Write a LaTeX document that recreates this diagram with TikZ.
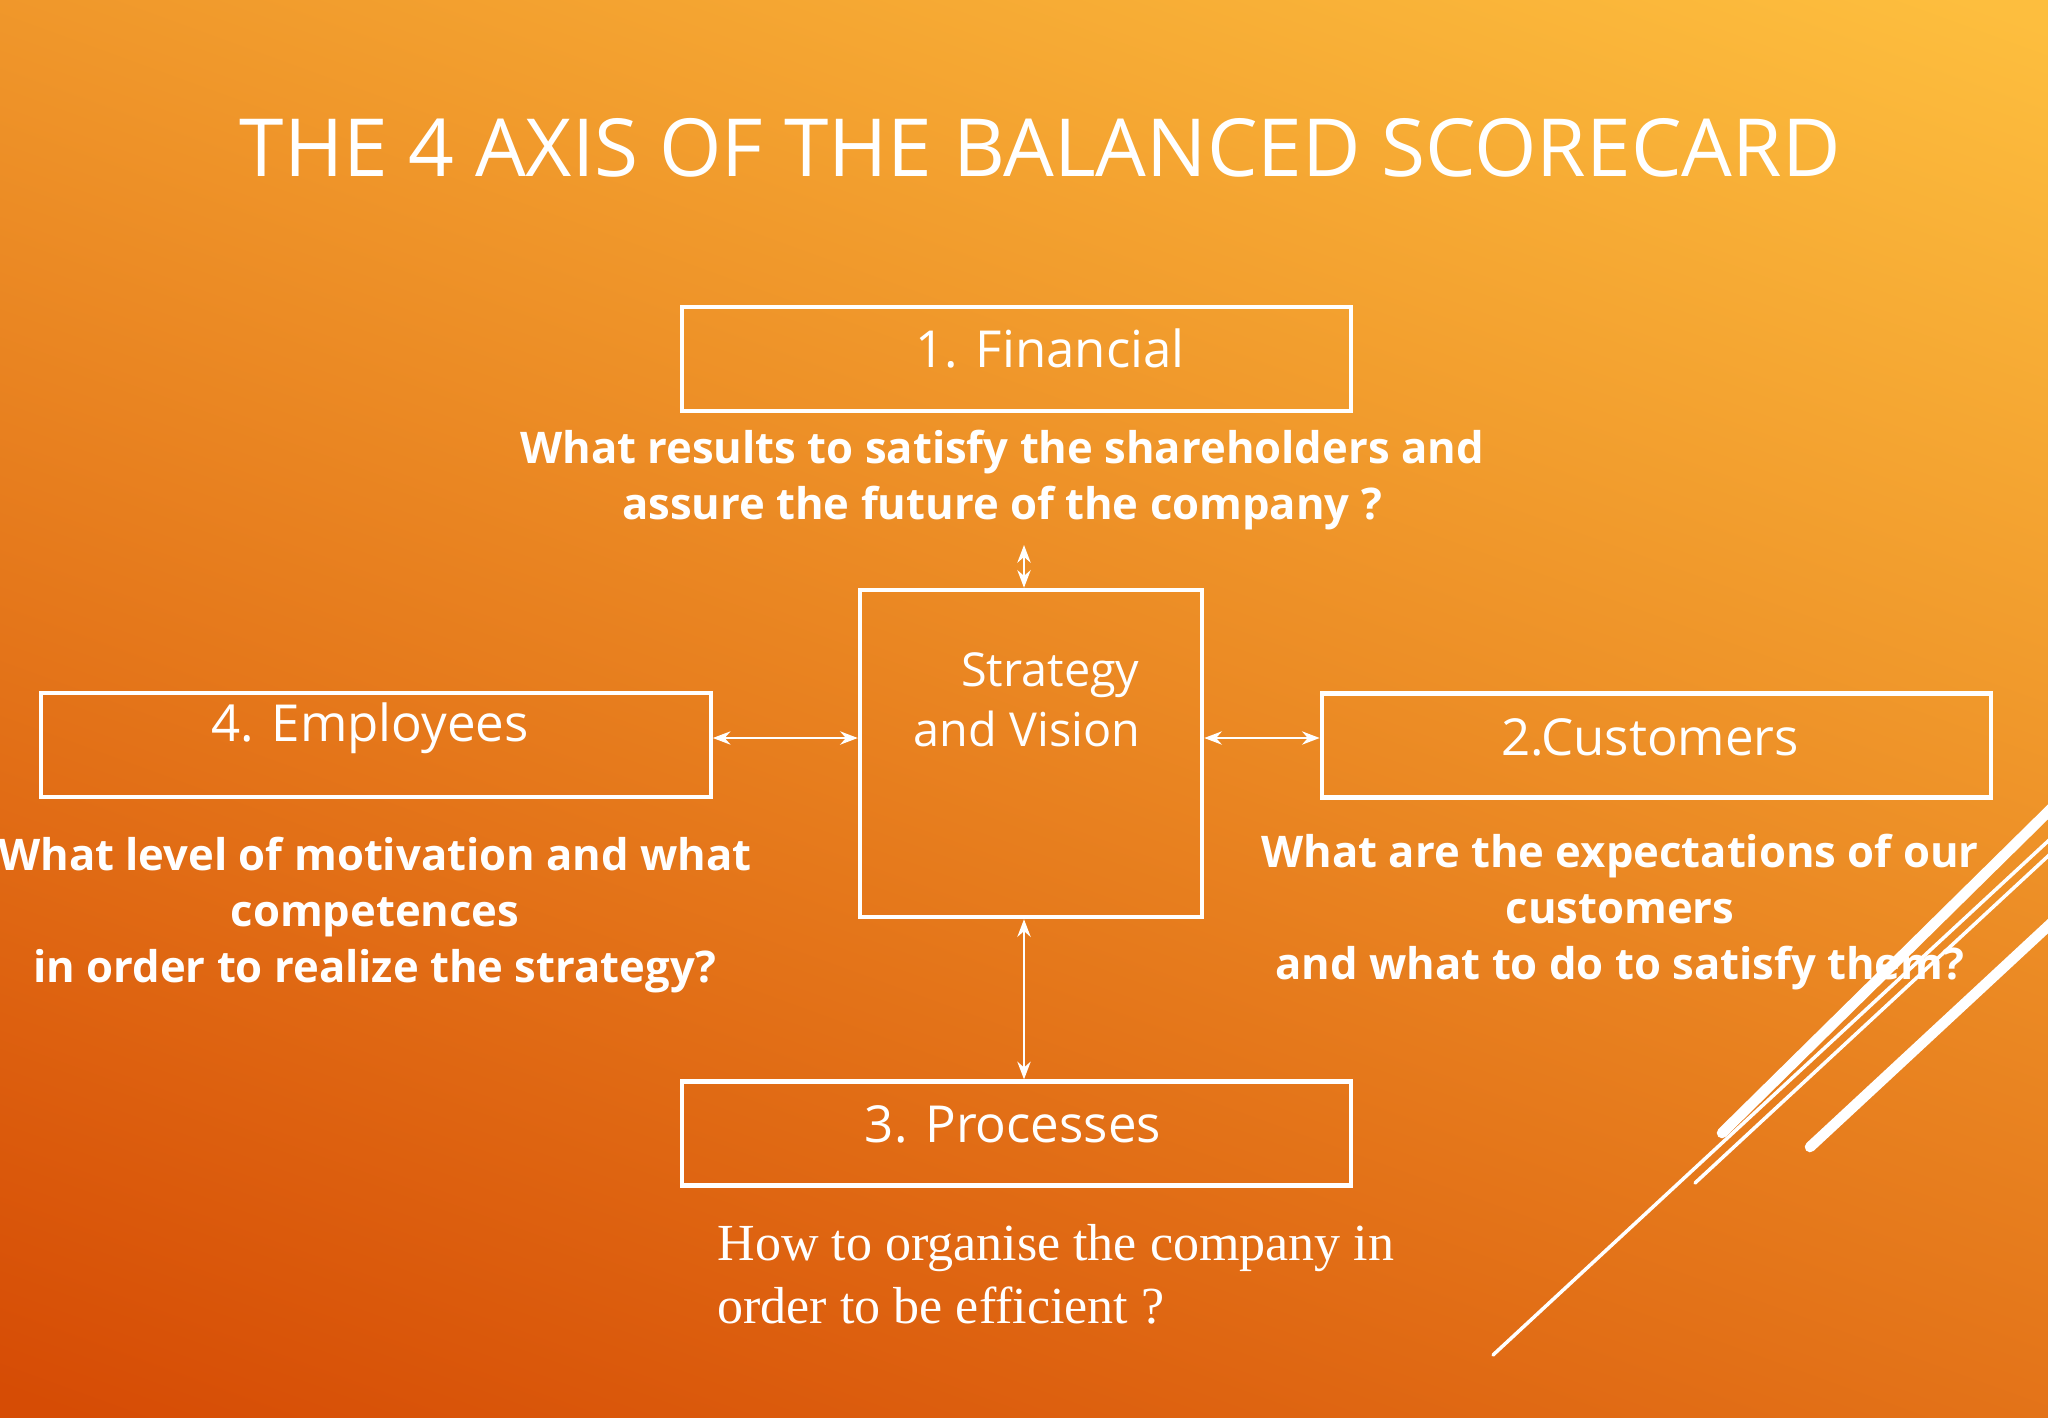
\documentclass[tikz,border=0pt]{standalone}
\usepackage{fontspec}
\setmainfont{Open Sans}
\newfontfamily\serifq{Liberation Serif}
\usetikzlibrary{arrows.meta}
\definecolor{topc}{HTML}{FDBE3E}
\definecolor{botc}{HTML}{D64C05}
\tikzset{
  box/.style={draw=white,line width=1.2pt,minimum width=6.69cm,minimum height=1.04cm,inner sep=0pt},
  lab/.style={text=white,font=\fontsize{14.5}{18}\selectfont},
  q/.style={text=white,font=\bfseries\fontsize{12.4}{15.8}\selectfont,align=center},
  dbl/.style={draw=white,line width=0.8pt,{Stealth[length=5pt]}-{Stealth[length=5pt]}},
  deco/.style={draw=white,line cap=round}
}
\begin{document}
\begin{tikzpicture}[x=0.01cm,y=-0.01cm]
\useasboundingbox (0,0) rectangle (2048,1418);
\clip (0,0) rectangle (2048,1418);
\shade[top color=topc,bottom color=botc,shading angle=-20] (-200,-200) rectangle (2248,1618);
\node[text=white,font=\fontsize{22.8}{28}\selectfont] (title) at (1040,148) {THE 4 AXIS OF THE BALANCED SCORECARD};
\node[box] (fin) at (1016.5,359) {};
\node[lab] at (1050,348) {1. Financial};
\node[draw=white,line width=1.2pt,minimum width=3.42cm,minimum height=3.27cm,inner sep=0pt] (sv) at (1031,753.5) {};
\node[lab,align=center,font=\fontsize{13.3}{17}\selectfont] at (1027,700) {\hspace*{1.0em}Strategy\\and Vision};
\node[box] (emp) at (376,745) {};
\node[lab] at (370,728) {4. Employees};
\node[box] (cus) at (1656.5,745.5) {};
\node[lab] at (1650,737) {2.Customers};
\node[box] (pro) at (1016.5,1133.5) {};
\node[lab] at (1013,1124) {3. Processes};
\node[q] (qf) at (1002,480) {What results to satisfy the shareholders and\\assure the future of the company ?};
\node[q] (qe) at (375,915) {What level of motivation and what\\competences\\in order to realize the strategy?};
\node[q] (qc) at (1620,912) {What are the expectations of our\\customers\\and what to do to satisfy them?};
\node[text=white,font=\serifq\fontsize{14.8}{17.8}\selectfont,align=left,anchor=north west] (qp) at (705,1212) {How to organise the company in\\order to be efficient ?};
\coordinate (ta) at (1024,545);
\draw[dbl] (ta) -- (ta|-sv.north);
\draw[dbl] (emp.east) ++(0,-7) -- (sv.west|-710,738);
\draw[dbl] (sv.east|-1202,738) -- (cus.west|-1202,738);
\draw[dbl] (sv.south-|ta) -- (pro.north-|ta);
\draw[deco,line width=3pt] (1722,1133) -- (2060,800);
\draw[deco,line width=3pt] (1810,1147) -- (2060,915);
\draw[deco,line width=1pt] (1695,1183) -- (2060,845);
\draw[deco,line width=1pt] (1493,1355) -- (2060,830);
\end{tikzpicture}
\end{document}
